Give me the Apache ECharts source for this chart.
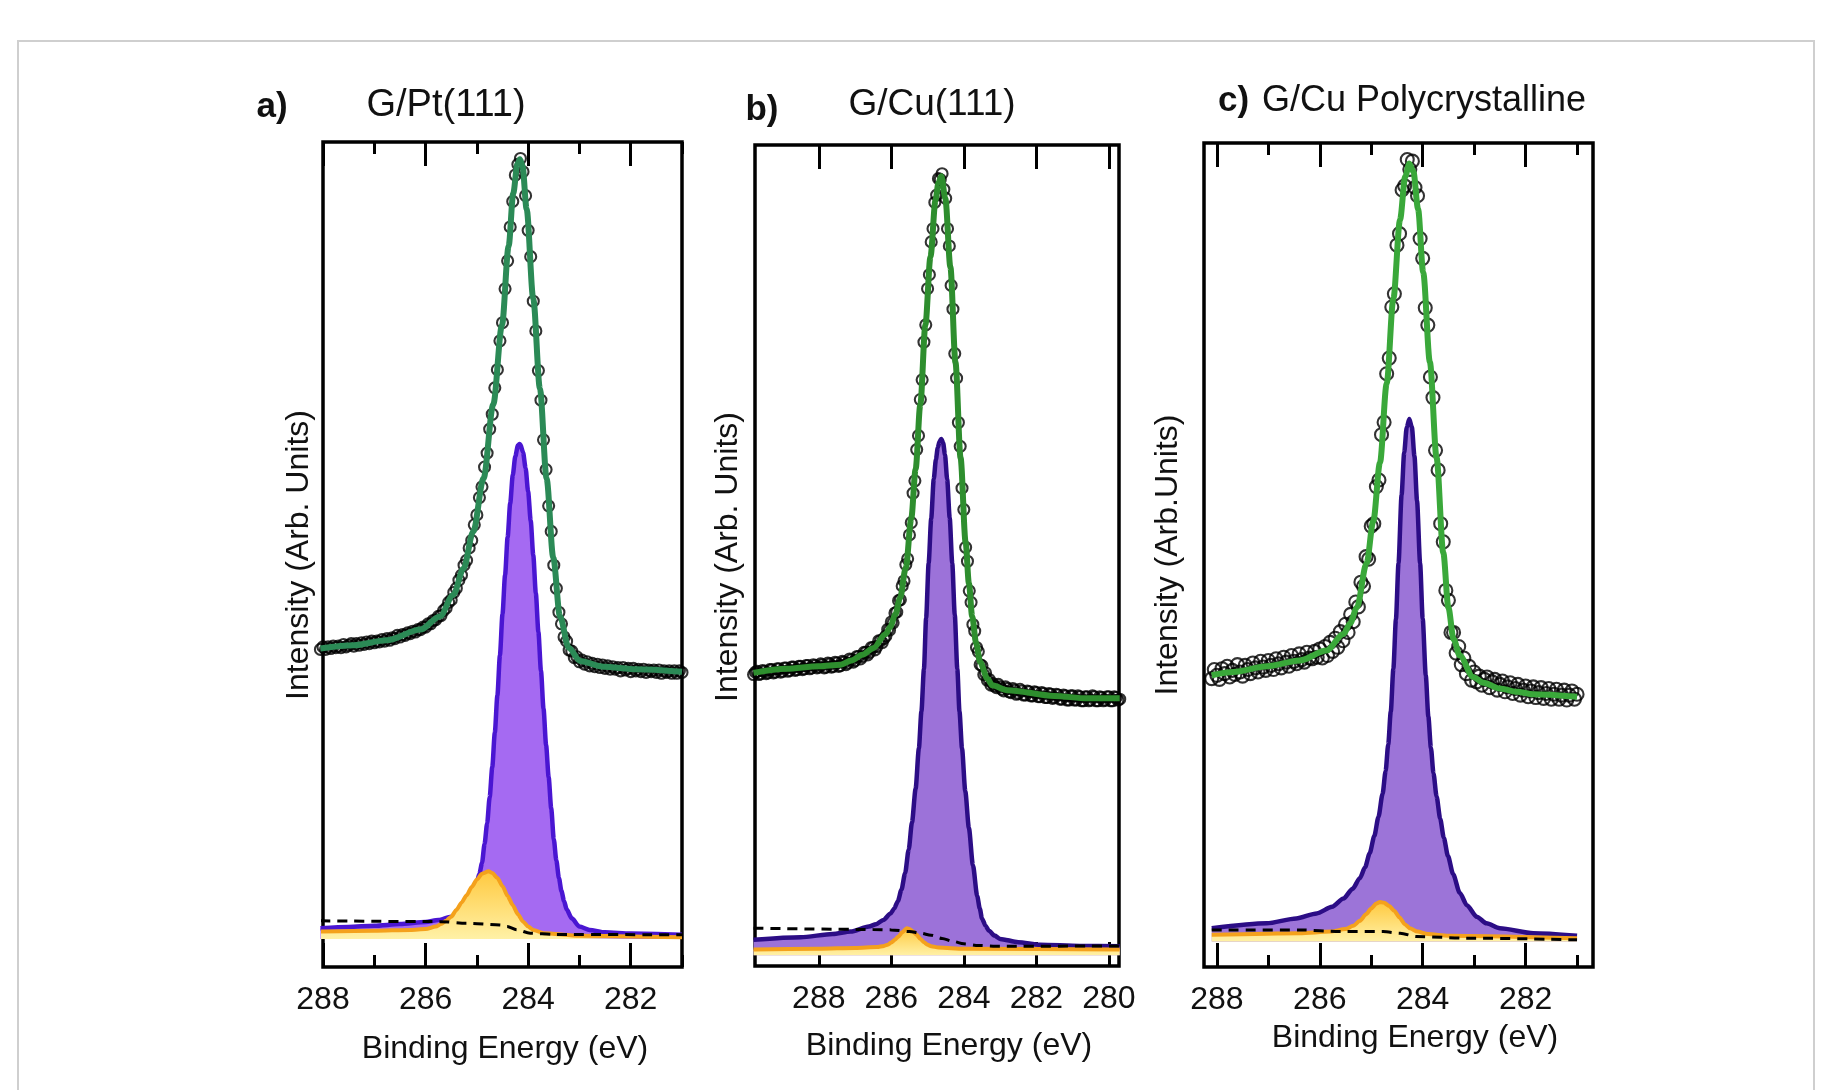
<!DOCTYPE html>
<html>
<head>
<meta charset="utf-8">
<script src="https://cdn.jsdelivr.net/npm/echarts@6.0.0/dist/echarts.min.js"></script>
<style>
html,body{margin:0;padding:0;background:#fff;}
#chart{width:1832px;height:1090px;}
</style>
</head>
<body>
<div id="chart"></div>
<script>
// ---------------- DATA (Binding energy in eV, intensity in arb. units) ----------------
// Panel a) G/Pt(111)
const dataA = [[288.05,38.5],[288.00,38.8],[287.95,38.5],[287.90,38.8],[287.85,38.6],[287.80,38.9],[287.75,38.7],[287.70,38.9],[287.65,38.7],[287.60,39.1],[287.55,38.8],[287.50,39.0],[287.45,39.2],[287.40,38.9],[287.35,39.2],[287.30,39.0],[287.25,39.3],[287.20,39.1],[287.15,39.4],[287.10,39.2],[287.05,39.5],[287.00,39.3],[286.95,39.5],[286.90,39.4],[286.85,39.7],[286.80,39.5],[286.75,39.8],[286.70,39.6],[286.65,39.9],[286.60,39.8],[286.55,40.2],[286.50,40.0],[286.45,40.3],[286.40,40.2],[286.35,40.5],[286.30,40.4],[286.25,40.7],[286.20,40.6],[286.15,40.9],[286.10,40.9],[286.05,41.2],[286.00,41.2],[285.95,41.6],[285.90,41.6],[285.85,42.0],[285.80,42.1],[285.75,42.5],[285.70,42.6],[285.65,43.2],[285.60,43.5],[285.55,44.2],[285.50,44.5],[285.45,45.4],[285.40,45.9],[285.35,46.9],[285.30,47.5],[285.25,48.7],[285.20,49.3],[285.15,50.8],[285.10,51.7],[285.05,53.6],[285.00,54.8],[284.95,56.9],[284.90,58.2],[284.85,60.6],[284.80,62.3],[284.75,65.2],[284.70,67.0],[284.65,70.2],[284.60,72.4],[284.55,75.9],[284.50,78.1],[284.45,82.2],[284.40,85.6],[284.35,89.7],[284.30,92.8],[284.25,96.0],[284.20,97.3],[284.15,98.0],[284.10,96.4],[284.05,93.5],[284.00,89.3],[283.95,86.1],[283.90,80.7],[283.85,77.1],[283.80,72.3],[283.75,68.7],[283.70,63.9],[283.65,60.3],[283.60,55.9],[283.55,52.8],[283.50,48.7],[283.45,45.9],[283.40,43.0],[283.35,41.6],[283.30,40.0],[283.25,39.5],[283.20,38.4],[283.15,38.3],[283.10,37.5],[283.05,37.6],[283.00,37.0],[282.95,37.2],[282.90,36.7],[282.85,37.0],[282.80,36.5],[282.75,36.8],[282.70,36.4],[282.65,36.7],[282.60,36.3],[282.55,36.6],[282.50,36.2],[282.45,36.5],[282.40,36.1],[282.35,36.4],[282.30,36.1],[282.25,36.3],[282.20,35.9],[282.15,36.3],[282.10,36.0],[282.05,36.2],[282.00,35.8],[281.95,36.2],[281.90,35.9],[281.85,36.1],[281.80,35.8],[281.75,36.1],[281.70,35.7],[281.65,36.0],[281.60,35.8],[281.55,36.0],[281.50,35.7],[281.45,36.0],[281.40,35.6],[281.35,35.9],[281.30,35.7],[281.25,35.9],[281.20,35.6],[281.15,35.9],[281.10,35.6],[281.05,35.9],[281.00,35.7]];
const fitA = [[288.05,38.6],[287.4,39.0],[286.76,39.6],[286.1,40.9],[285.72,42.5],[285.46,45.1],[285.26,48.3],[285.07,52.8],[284.87,59.2],[284.68,68.2],[284.51,77.8],[284.38,87.4],[284.29,93.8],[284.21,97.3],[284.16,97.9],[284.11,97.1],[284.03,91.9],[283.9,81.0],[283.77,70.1],[283.64,59.2],[283.51,49.6],[283.38,42.5],[283.21,38.7],[282.99,37.1],[282.53,36.4],[281.88,36.1],[281.0,35.8]];
const mainA = [[288.05,4.7],[287.5,4.85],[287.0,5.0],[286.5,5.2],[286.0,5.45],[285.75,5.7],[285.5,6.1],[285.35,6.7],[285.25,7.4],[285.15,8.3],[285.05,9.5],[285.0,10.3],[284.95,11.3],[284.9,12.6],[284.85,14.9],[284.8,17.4],[284.75,20.6],[284.7,24.2],[284.65,28.4],[284.6,32.9],[284.55,37.8],[284.5,42.8],[284.45,47.5],[284.4,52.1],[284.35,56.2],[284.3,59.6],[284.25,61.9],[284.2,63.2],[284.17,63.4],[284.15,63.3],[284.1,62.4],[284.05,60.5],[284.0,57.6],[283.95,54.1],[283.9,49.9],[283.85,45.3],[283.8,40.6],[283.75,35.9],[283.7,31.3],[283.65,26.9],[283.6,23.0],[283.55,19.2],[283.5,15.5],[283.45,12.9],[283.4,10.8],[283.35,9.2],[283.3,8.0],[283.25,7.0],[283.15,5.9],[283.0,4.9],[282.8,4.5],[282.5,4.2],[282.0,4.05],[281.0,3.9]];
const sideA = [[288.05,4.3],[287.0,4.4],[286.3,4.5],[286.0,4.6],[285.8,4.9],[285.7,5.2],[285.6,5.6],[285.5,6.1],[285.4,6.9],[285.3,7.8],[285.2,8.7],[285.1,9.7],[285.0,10.6],[284.9,11.3],[284.77,11.6],[284.7,11.4],[284.6,10.8],[284.5,9.8],[284.4,8.6],[284.3,7.5],[284.2,6.4],[284.1,5.5],[284.0,4.9],[283.9,4.5],[283.7,4.1],[283.0,3.8],[281.0,3.6]];
const bgA = [[288.05,5.6],[285.72,5.5],[285.2,5.3],[284.55,5.1],[284.41,4.9],[284.22,4.5],[283.96,4.1],[283.5,3.95],[281.0,3.9]];

// Panel b) G/Cu(111)
const dataB = [[289.8,35.5],[289.75,35.8],[289.7,35.9],[289.65,35.5],[289.6,35.6],[289.55,36.0],[289.5,35.9],[289.45,35.6],[289.4,35.7],[289.35,36.1],[289.3,36.1],[289.25,35.7],[289.2,35.8],[289.15,36.2],[289.1,36.2],[289.05,35.8],[289.0,35.9],[288.95,36.3],[288.9,36.3],[288.85,35.9],[288.8,36.0],[288.75,36.4],[288.7,36.4],[288.65,36.0],[288.6,36.1],[288.55,36.5],[288.5,36.5],[288.45,36.1],[288.4,36.2],[288.35,36.6],[288.3,36.6],[288.25,36.2],[288.2,36.3],[288.15,36.7],[288.1,36.6],[288.05,36.3],[288.0,36.4],[287.95,36.8],[287.9,36.7],[287.85,36.3],[287.8,36.4],[287.75,36.9],[287.7,36.8],[287.65,36.4],[287.6,36.5],[287.55,37.0],[287.5,36.9],[287.45,36.5],[287.4,36.6],[287.35,37.1],[287.3,37.0],[287.25,36.7],[287.2,36.9],[287.15,37.4],[287.1,37.3],[287.05,37.0],[287.0,37.2],[286.95,37.7],[286.9,37.7],[286.85,37.4],[286.8,37.7],[286.75,38.2],[286.7,38.2],[286.65,37.9],[286.6,38.2],[286.55,38.8],[286.5,38.8],[286.45,38.5],[286.4,38.9],[286.35,39.6],[286.3,39.6],[286.25,39.4],[286.2,39.9],[286.15,40.2],[286.10,41.0],[286.05,40.9],[286.00,41.9],[285.95,41.8],[285.90,43.0],[285.85,43.1],[285.80,44.5],[285.75,44.6],[285.70,46.3],[285.65,46.9],[285.60,48.9],[285.55,49.6],[285.50,52.5],[285.45,54.0],[285.40,57.6],[285.35,59.1],[285.30,62.9],[285.25,64.6],[285.20,69.0],[285.15,71.4],[285.10,76.0],[285.05,78.1],[285.00,82.5],[284.95,84.2],[284.90,88.2],[284.85,89.8],[284.80,93.0],[284.75,93.9],[284.70,95.9],[284.65,95.8],[284.60,96.5],[284.55,94.6],[284.50,93.5],[284.45,89.8],[284.40,87.7],[284.35,82.9],[284.30,80.0],[284.25,74.6],[284.20,71.6],[284.15,66.2],[284.10,63.3],[284.05,58.2],[284.00,55.6],[283.95,51.0],[283.90,49.3],[283.85,45.7],[283.80,44.3],[283.75,41.6],[283.70,40.8],[283.65,38.8],[283.60,38.3],[283.55,36.7],[283.50,36.6],[283.45,35.5],[283.40,35.7],[283.35,34.8],[283.30,34.9],[283.25,34.2],[283.20,34.4],[283.15,34.1],[283.1,33.9],[283.05,34.3],[283.0,34.0],[282.95,33.7],[282.9,33.5],[282.85,34.0],[282.8,33.8],[282.75,33.4],[282.7,33.3],[282.65,33.8],[282.6,33.6],[282.55,33.1],[282.5,33.2],[282.45,33.7],[282.4,33.5],[282.35,33.0],[282.3,33.0],[282.25,33.5],[282.2,33.4],[282.15,32.9],[282.1,32.9],[282.05,33.4],[282.0,33.3],[281.95,32.8],[281.9,32.8],[281.85,33.3],[281.8,33.2],[281.75,32.7],[281.7,32.7],[281.65,33.2],[281.6,33.1],[281.55,32.6],[281.5,32.7],[281.45,33.1],[281.4,33.0],[281.35,32.5],[281.3,32.5],[281.25,33.0],[281.2,32.9],[281.15,32.4],[281.1,32.4],[281.05,32.9],[281.0,32.9],[280.95,32.4],[280.9,32.4],[280.85,32.9],[280.8,32.8],[280.75,32.3],[280.7,32.3],[280.65,32.8],[280.6,32.8],[280.55,32.3],[280.5,32.4],[280.45,32.9],[280.4,32.8],[280.35,32.3],[280.3,32.3],[280.25,32.8],[280.2,32.7],[280.15,32.3],[280.1,32.4],[280.05,32.8],[280.0,32.8],[279.95,32.3],[279.9,32.3],[279.85,32.8],[279.8,32.7],[279.75,32.4],[279.7,32.5]];
const fitB = [[289.8,35.7],[288.9,36.2],[288.0,36.5],[287.4,36.7],[287.1,37.2],[286.8,37.9],[286.5,38.7],[286.16,40.4],[286.03,41.3],[285.89,42.8],[285.76,44.8],[285.6,48.5],[285.45,54.5],[285.33,60.5],[285.2,68.4],[285.06,78.1],[284.92,86.4],[284.78,93.3],[284.7,95.4],[284.62,96.2],[284.51,93.5],[284.37,85.1],[284.23,73.5],[284.09,61.9],[283.95,51.6],[283.86,46.6],[283.77,42.6],[283.66,39.3],[283.55,37.0],[283.35,35.0],[283.22,34.2],[282.8,33.6],[281.5,32.9],[280.6,32.6],[279.7,32.6]];
const mainB = [[289.8,3.2],[288.5,3.5],[287.62,3.9],[287.12,4.2],[286.62,4.8],[286.42,5.1],[286.22,5.6],[286.02,6.4],[285.92,7.0],[285.82,7.9],[285.72,9.3],[285.62,11.3],[285.52,14.2],[285.43,17.5],[285.33,21.6],[285.24,26.5],[285.17,31.0],[285.1,36.2],[285.04,42.4],[284.97,49.1],[284.9,54.5],[284.83,59.3],[284.77,61.7],[284.72,63.1],[284.67,63.9],[284.62,64.2],[284.57,63.7],[284.52,62.3],[284.46,59.3],[284.39,54.6],[284.32,49.1],[284.25,42.8],[284.18,36.2],[284.12,31.0],[284.05,26.5],[283.96,21.3],[283.86,16.8],[283.75,12.3],[283.63,8.5],[283.56,7.0],[283.5,5.8],[283.4,4.9],[283.31,4.3],[283.15,3.7],[283.0,3.3],[282.5,2.9],[281.9,2.6],[280.8,2.45],[279.7,2.4]];
const sideB = [[289.8,2.0],[288.0,2.1],[287.0,2.2],[286.4,2.3],[286.2,2.45],[286.1,2.6],[286.0,2.85],[285.9,3.2],[285.8,3.6],[285.7,4.1],[285.6,4.5],[285.57,4.6],[285.5,4.5],[285.4,4.2],[285.3,3.8],[285.2,3.3],[285.1,2.9],[285.0,2.6],[284.9,2.4],[284.7,2.25],[284.0,2.1],[279.7,2.0]];
const bgB = [[289.8,4.6],[286.5,4.45],[286.0,4.4],[285.5,4.2],[285.2,4.0],[284.9,3.75],[284.6,3.35],[284.3,3.0],[284.0,2.7],[283.6,2.5],[283.0,2.4],[279.7,2.45]];

// Panel c) G/Cu Polycrystalline
const dataC = [[288.10,35.0],[288.05,36.1],[288.00,35.4],[287.95,34.9],[287.90,36.2],[287.85,35.6],[287.80,36.5],[287.75,35.2],[287.70,36.0],[287.65,35.5],[287.60,36.7],[287.55,35.8],[287.50,35.3],[287.45,36.6],[287.40,36.1],[287.35,35.6],[287.30,36.9],[287.25,36.3],[287.20,35.8],[287.15,37.1],[287.10,36.4],[287.05,36.0],[287.00,37.2],[286.95,36.6],[286.90,36.1],[286.85,37.4],[286.80,36.8],[286.75,36.3],[286.70,37.6],[286.65,37.0],[286.60,36.5],[286.55,37.8],[286.50,37.1],[286.45,36.8],[286.40,38.0],[286.35,37.3],[286.30,37.0],[286.25,38.2],[286.20,37.5],[286.15,37.4],[286.10,38.3],[286.05,37.6],[286.00,38.6],[285.95,37.5],[285.90,38.9],[285.85,37.8],[285.80,39.4],[285.75,38.3],[285.70,39.9],[285.65,38.8],[285.60,40.7],[285.55,39.6],[285.50,41.6],[285.45,40.6],[285.40,42.8],[285.35,41.9],[285.30,44.3],[285.25,43.7],[285.20,46.7],[285.15,46.2],[285.10,49.8],[285.05,49.5],[285.00,53.5],[284.95,53.8],[284.90,58.3],[284.85,59.1],[284.80,64.6],[284.75,66.1],[284.70,72.0],[284.65,73.9],[284.60,80.1],[284.55,81.7],[284.50,87.6],[284.45,89.0],[284.40,94.3],[284.35,94.8],[284.30,98.0],[284.25,96.8],[284.20,97.8],[284.15,94.6],[284.10,93.6],[284.05,88.4],[284.00,86.0],[283.95,80.0],[283.90,77.9],[283.85,71.6],[283.80,69.1],[283.75,62.7],[283.70,60.3],[283.65,53.8],[283.60,51.6],[283.55,45.7],[283.50,44.5],[283.45,40.6],[283.40,40.6],[283.35,38.1],[283.30,38.9],[283.25,36.7],[283.20,37.5],[283.15,35.6],[283.10,36.5],[283.05,34.8],[283.00,35.8],[282.95,34.6],[282.90,35.3],[282.85,34.2],[282.80,34.9],[282.75,35.2],[282.70,33.9],[282.65,34.6],[282.60,34.9],[282.55,33.6],[282.50,34.3],[282.45,34.7],[282.40,33.4],[282.35,34.0],[282.30,34.5],[282.25,33.2],[282.20,33.8],[282.15,34.3],[282.10,33.0],[282.05,33.6],[282.00,34.1],[281.95,32.8],[281.90,33.5],[281.85,34.0],[281.80,32.7],[281.75,33.3],[281.70,33.9],[281.65,32.6],[281.60,33.2],[281.55,33.8],[281.50,32.5],[281.45,33.1],[281.40,33.7],[281.35,32.5],[281.30,33.0],[281.25,33.6],[281.20,32.4],[281.15,33.0],[281.10,33.5],[281.05,32.5],[281.00,33.1]];
const fitC = [[288.1,35.4],[287.68,35.8],[287.03,36.5],[286.39,37.2],[285.87,38.4],[285.54,40.4],[285.41,41.7],[285.28,43.6],[285.09,49.0],[284.96,54.1],[284.83,61.2],[284.70,70.8],[284.57,81.1],[284.44,90.7],[284.34,95.9],[284.26,97.5],[284.18,96.5],[284.09,92.0],[283.99,84.3],[283.86,73.4],[283.73,61.8],[283.60,50.3],[283.50,43.6],[283.40,39.8],[283.28,37.8],[283.02,35.2],[282.82,34.5],[282.5,33.8],[282.17,33.4],[281.85,33.1],[281.0,32.8]];
const mainC = [[288.1,4.7],[287.03,5.3],[286.46,5.9],[286.06,6.5],[285.76,7.3],[285.54,8.3],[285.36,9.5],[285.22,10.8],[285.12,12.1],[285.03,13.8],[284.94,15.9],[284.86,18.2],[284.78,21.0],[284.72,23.8],[284.67,27.0],[284.62,31.0],[284.57,36.2],[284.52,42.2],[284.47,49.0],[284.41,57.3],[284.36,62.4],[284.31,65.5],[284.26,66.5],[284.21,65.5],[284.16,62.0],[284.11,56.6],[284.05,49.0],[284.0,42.3],[283.94,35.4],[283.89,30.4],[283.84,26.6],[283.79,23.5],[283.73,20.7],[283.66,18.0],[283.59,15.7],[283.51,13.5],[283.41,11.3],[283.28,9.0],[283.14,7.5],[282.95,6.1],[282.76,5.3],[282.5,4.7],[281.85,4.1],[281.0,3.8]];
const sideC = [[288.1,3.9],[286.39,4.1],[285.8,4.3],[285.5,4.6],[285.35,5.0],[285.22,5.6],[285.1,6.4],[285.0,7.1],[284.9,7.7],[284.83,7.9],[284.75,7.8],[284.65,7.4],[284.55,6.8],[284.45,6.0],[284.35,5.2],[284.25,4.7],[284.1,4.3],[283.9,4.0],[283.5,3.8],[281.0,3.5]];
const bgC = [[288.1,4.5],[286.39,4.5],[285.61,4.3],[284.77,4.3],[284.44,4.1],[284.12,3.7],[283.15,3.5],[281.0,3.3]];

// Tick values
const majorA = [282, 284, 286, 288], minorA = [281, 283, 285, 287];
const majorB = [280, 282, 284, 286, 288];
const majorC = [282, 284, 286, 288], minorC = [281, 283, 285, 287];

// Texts
const titles = ['G/Pt(111)', 'G/Cu(111)', 'G/Cu Polycrystalline'];
const letters = ['a)', 'b)', 'c)'];
const yNames = ['Intensity (Arb. Units)', 'Intensity (Arb. Units)', 'Intensity (Arb.Units)'];
const xName = 'Binding Energy (eV)';

// ---------------- LAYOUT / STYLE ----------------
const FONT = "'Liberation Sans', Arial, Helvetica, sans-serif";
const panels = [
  {rect:{left:323, top:142, width:359, height:825}, xMin:281.0, xMax:288.0, major:majorA, minor:minorA,
   data:dataA, fit:fitA, main:mainA, side:sideA, bg:bgA, origin:3.4, sym:11,
   green:'#2b8a56', pFill:'#a56af2', pLine:'#4a16d2'},
  {rect:{left:755, top:145, width:364, height:821}, xMin:279.72, xMax:289.76, major:majorB, minor:null,
   data:dataB, fit:fitB, main:mainB, side:sideB, bg:bgB, origin:1.3, sym:11,
   green:'#2e8e2e', pFill:'#9c72d9', pLine:'#2c0d86'},
  {rect:{left:1204, top:143, width:389, height:824}, xMin:280.69, xMax:288.25, major:majorC, minor:minorC,
   data:dataC, fit:fitC, main:mainC, side:sideC, bg:bgC, origin:3.1, sym:13,
   green:'#3aa83a', pFill:'#9c74d8', pLine:'#2c0d86'}
];

const option = {animation:false, backgroundColor:'#ffffff', grid:[], xAxis:[], yAxis:[], series:[], graphic:[]};
const tickStyle = {color:'#000', width:3};

panels.forEach((p, i) => {
  const g = option.grid.length;
  option.grid.push(Object.assign({show:true, borderColor:'#000', borderWidth:3.5, backgroundColor:'rgba(0,0,0,0)'}, p.rect));
  const base = {type:'value', gridIndex:g, min:p.xMin, max:p.xMax, inverse:true,
                splitLine:{show:false}, axisLine:{show:false}};
  const xb = option.xAxis.length;
  option.xAxis.push(Object.assign({}, base, {position:'bottom',
    axisTick:{show:true, inside:true, length:24, lineStyle:tickStyle, customValues:p.major},
    axisLabel:{show:true, customValues:p.major, margin:17, color:'#111', fontSize:32, fontFamily:FONT}}));
  option.xAxis.push(Object.assign({}, base, {position:'top',
    axisTick:{show:true, inside:true, length:24, lineStyle:tickStyle, customValues:p.major},
    axisLabel:{show:false}}));
  const yi = option.yAxis.length;
  option.yAxis.push({type:'value', gridIndex:g, min:0, max:100, show:false});

  if (p.minor) {
    const g2 = option.grid.length;
    option.grid.push(Object.assign({show:false}, p.rect));
    const base2 = Object.assign({}, base, {gridIndex:g2});
    option.xAxis.push(Object.assign({}, base2, {position:'bottom',
      axisTick:{show:true, inside:true, length:12, lineStyle:tickStyle, customValues:p.minor}, axisLabel:{show:false}}));
    option.xAxis.push(Object.assign({}, base2, {position:'top',
      axisTick:{show:true, inside:true, length:12, lineStyle:tickStyle, customValues:p.minor}, axisLabel:{show:false}}));
    option.yAxis.push({type:'value', gridIndex:g2, min:0, max:100, show:false});
  }

  const common = {xAxisIndex:xb, yAxisIndex:yi, symbol:'none', silent:true, smoothMonotone:'x'};
  option.series.push(Object.assign({}, common, {type:'line', name:'C sp2 '+i, data:p.main, smooth:0.25, z:2,
    lineStyle:{color:p.pLine, width:4.5}, areaStyle:{color:p.pFill, opacity:1, origin:p.origin}}));
  option.series.push(Object.assign({}, common, {type:'line', name:'C minor '+i, data:p.side, smooth:0.25, z:3,
    lineStyle:{color:'#f4a11c', width:4},
    areaStyle:{opacity:1, origin:p.origin, color:{type:'linear', x:0, y:0, x2:0, y2:1,
      colorStops:[{offset:0, color:'#ffc93f'}, {offset:1, color:'#fff1a6'}]}}}));
  option.series.push(Object.assign({}, common, {type:'line', name:'bg '+i, data:p.bg, smooth:0.3, z:4,
    lineStyle:{color:'#000', width:3, type:[10,7]}}));
  option.series.push({type:'scatter', name:'data '+i, xAxisIndex:xb, yAxisIndex:yi, data:p.data, silent:true, z:5, clip:false,
    symbol:'circle', symbolSize:p.sym,
    itemStyle:{color:'rgba(255,255,255,0)', borderColor:'#000', borderWidth:2.1}});
  option.series.push(Object.assign({}, common, {type:'line', name:'fit '+i, data:p.fit, smooth:0.3, z:6, clip:false,
    lineStyle:{color:p.green, width:6}}));
});

// Texts
const txt = (text, x, y, size, opts) => Object.assign({type:'text', x:x, y:y, silent:true, z:10,
  style:Object.assign({text:text, fontSize:size, fontFamily:FONT, fill:'#111', align:'center', verticalAlign:'middle'}, (opts && opts.style) || {})},
  opts && opts.rotation ? {rotation:opts.rotation} : {});

option.graphic = [
  {type:'rect', shape:{x:18, y:41, width:1796, height:1100}, style:{fill:'none', stroke:'#cfcfcf', lineWidth:2}, silent:true, z:0},
  txt(letters[0], 272, 107, 35, {style:{fontWeight:'bold'}}),
  txt(titles[0], 446, 106, 38),
  txt(letters[1], 762, 110, 35, {style:{fontWeight:'bold'}}),
  txt(titles[1], 932, 105, 37),
  txt(letters[2], 1218, 101, 35, {style:{fontWeight:'bold', align:'left'}}),
  txt(titles[2], 1262, 101, 36, {style:{align:'left'}}),
  txt(yNames[0], 299, 555, 32, {rotation:Math.PI/2}),
  txt(yNames[1], 728, 557, 32, {rotation:Math.PI/2}),
  txt(yNames[2], 1168, 555, 32, {rotation:Math.PI/2}),
  txt(xName, 505, 1049, 32),
  txt(xName, 949, 1046, 32),
  txt(xName, 1415, 1038, 32)
];

const chart = echarts.init(document.getElementById('chart'), null, {renderer:'canvas'});
chart.setOption(option);
</script>
</body>
</html>
